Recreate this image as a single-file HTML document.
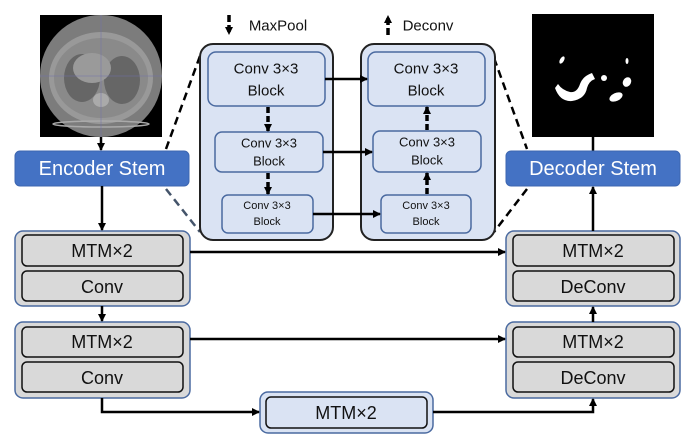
<!DOCTYPE html>
<html><head><meta charset="utf-8"><style>
body{margin:0;background:#fff}
svg{display:block}
text{font-family:"Liberation Sans",sans-serif;text-anchor:middle;dominant-baseline:central;fill:#111}
</style></head><body>
<svg width="698" height="447" viewBox="0 0 698 447" xmlns="http://www.w3.org/2000/svg">
<defs>
<marker id="a" markerWidth="8" markerHeight="8" refX="7" refY="4" orient="auto" markerUnits="userSpaceOnUse"><path d="M0,0 L8,4 L0,8 z" fill="#000"/></marker>
</defs>
<!-- CT image -->
<rect x="40" y="15" width="122" height="122" fill="#000"/>
<circle cx="101" cy="76" r="61" fill="#7c7c7c"/>
<ellipse cx="101" cy="78" rx="52" ry="46" fill="#999"/>
<ellipse cx="101" cy="78" rx="47" ry="40" fill="#8a8a8a"/>
<ellipse cx="82" cy="78" rx="18" ry="24" fill="#666"/>
<ellipse cx="122" cy="80" rx="18" ry="24" fill="#666"/>
<ellipse cx="92" cy="68" rx="19" ry="15" fill="#9a9a9a"/>
<ellipse cx="101" cy="100" rx="8" ry="7" fill="#aaa"/>
<ellipse cx="101" cy="124" rx="48" ry="3" fill="none" stroke="#aaa" stroke-width="1.5"/>
<line x1="101" y1="15" x2="101" y2="137" stroke="#7070aa" stroke-width="0.5"/>
<line x1="40" y1="76" x2="162" y2="76" stroke="#7070aa" stroke-width="0.5"/>
<!-- Mask -->
<rect x="532" y="14" width="122" height="123" fill="#000"/>
<path d="M555,88 Q560,102 572,101 Q585,99 587,88 Q589,81 595,79 L592,73 Q583,76 580,84 Q577,93 570,92 Q562,90 558,84 z" fill="#fff"/>
<ellipse cx="562" cy="60" rx="2" ry="4" transform="rotate(30 562 60)" fill="#fff"/>
<ellipse cx="627" cy="61" rx="1.5" ry="3" fill="#fff"/>
<circle cx="604" cy="78" r="3" fill="#fff"/>
<ellipse cx="627" cy="82" rx="4" ry="5" transform="rotate(30 627 82)" fill="#fff"/>
<ellipse cx="616" cy="97" rx="7" ry="4" transform="rotate(-25 616 97)" fill="#fff"/>
<!-- stems -->
<line x1="101" y1="137" x2="101" y2="150" stroke="#000" stroke-width="2.5" marker-end="url(#a)"/>
<rect x="15" y="151" width="174" height="35" rx="5" fill="#4472c4" stroke="#3d66b0"/>
<text x="102" y="169" font-size="20" style="fill:#fff">Encoder Stem</text>
<line x1="593" y1="137" x2="593" y2="151" stroke="#000" stroke-width="2.5"/>
<rect x="506" y="151" width="174" height="35" rx="5" fill="#4472c4" stroke="#3d66b0"/>
<text x="593" y="169" font-size="20" style="fill:#fff">Decoder Stem</text>
<!-- dashed zoom lines -->
<line x1="166" y1="149" x2="200" y2="56" stroke="#000" stroke-width="2.5" stroke-dasharray="8,5"/>
<line x1="166" y1="189" x2="200" y2="232" stroke="#44546a" stroke-width="2.5" stroke-dasharray="8,5"/>
<line x1="494" y1="58" x2="527" y2="149" stroke="#000" stroke-width="2.5" stroke-dasharray="8,5"/>
<line x1="527" y1="189" x2="494" y2="232" stroke="#000" stroke-width="2.5" stroke-dasharray="8,5"/>
<!-- legends -->
<line x1="229" y1="15" x2="229" y2="34" stroke="#000" stroke-width="3.5" stroke-dasharray="7,3" marker-end="url(#a)"/>
<text x="278" y="26" font-size="15">MaxPool</text>
<line x1="388" y1="35" x2="388" y2="16" stroke="#000" stroke-width="3.5" stroke-dasharray="7,3" marker-end="url(#a)"/>
<text x="428" y="26" font-size="15">Deconv</text>
<!-- big boxes -->
<rect x="200" y="44" width="133" height="196" rx="13" fill="#dae3f3" stroke="#222" stroke-width="2"/>
<rect x="361" y="44" width="134" height="196" rx="13" fill="#dae3f3" stroke="#222" stroke-width="2"/>
<g fill="#dae3f3" stroke="#4a6aa0" stroke-width="1.5">
<rect x="208" y="52" width="117" height="54" rx="8"/>
<rect x="215" y="132" width="108" height="40" rx="7"/>
<rect x="222" y="195" width="91" height="38" rx="6"/>
<rect x="368" y="52" width="117" height="54" rx="8"/>
<rect x="373" y="131" width="108" height="41" rx="7"/>
<rect x="381" y="195" width="90" height="38" rx="6"/>
</g>
<text x="266" y="69" font-size="15">Conv 3×3</text><text x="266" y="91" font-size="15">Block</text>
<text x="269" y="143" font-size="13">Conv 3×3</text><text x="269" y="161" font-size="13">Block</text>
<text x="267" y="206" font-size="11">Conv 3×3</text><text x="267" y="222" font-size="11">Block</text>
<text x="426" y="69" font-size="15">Conv 3×3</text><text x="426" y="91" font-size="15">Block</text>
<text x="427" y="142" font-size="13">Conv 3×3</text><text x="427" y="160" font-size="13">Block</text>
<text x="426" y="206" font-size="11">Conv 3×3</text><text x="426" y="222" font-size="11">Block</text>
<g stroke="#000" stroke-width="2.5">
<line x1="325" y1="79" x2="367" y2="79" marker-end="url(#a)"/>
<line x1="323" y1="152" x2="372" y2="152" marker-end="url(#a)"/>
<line x1="313" y1="214" x2="380" y2="214" marker-end="url(#a)"/>
</g>
<g stroke="#000" stroke-width="3.5" stroke-dasharray="6,3">
<line x1="268" y1="107" x2="268" y2="131" marker-end="url(#a)"/>
<line x1="268" y1="173" x2="268" y2="194" marker-end="url(#a)"/>
<line x1="427" y1="130" x2="427" y2="107" marker-end="url(#a)"/>
<line x1="427" y1="194" x2="427" y2="173" marker-end="url(#a)"/>
</g>
<!-- MTM groups -->
<g stroke="#4a6aa0" stroke-width="1.5" fill="#d9d9d9">
<rect x="15" y="231" width="175" height="75" rx="8"/>
<rect x="15" y="322" width="175" height="76" rx="8"/>
<rect x="506" y="231" width="174" height="75" rx="8"/>
<rect x="506" y="322" width="174" height="76" rx="8"/>
<rect x="260" y="392" width="173" height="41" rx="8" fill="#dae3f3"/>
</g>
<g stroke="#111" stroke-width="1.5" fill="#d9d9d9">
<rect x="22" y="235" width="161" height="31" rx="5"/>
<rect x="22" y="271" width="161" height="30" rx="5"/>
<rect x="22" y="327" width="161" height="30" rx="5"/>
<rect x="22" y="362" width="161" height="30" rx="5"/>
<rect x="513" y="235" width="161" height="31" rx="5"/>
<rect x="513" y="271" width="161" height="30" rx="5"/>
<rect x="513" y="327" width="161" height="30" rx="5"/>
<rect x="513" y="362" width="161" height="30" rx="5"/>
<rect x="266" y="397" width="161" height="31" rx="5" fill="#dae3f3"/>
</g>
<g font-size="18">
<text x="102" y="251">MTM×2</text><text x="102" y="287">Conv</text>
<text x="102" y="342">MTM×2</text><text x="102" y="378">Conv</text>
<text x="593" y="251">MTM×2</text><text x="593" y="287">DeConv</text>
<text x="593" y="342">MTM×2</text><text x="593" y="378">DeConv</text>
<text x="346" y="413">MTM×2</text>
</g>
<g stroke="#000" stroke-width="2.5" fill="none">
<line x1="102" y1="186" x2="102" y2="230" marker-end="url(#a)"/>
<line x1="102" y1="306" x2="102" y2="321" marker-end="url(#a)"/>
<line x1="190" y1="252" x2="505" y2="252" marker-end="url(#a)"/>
<line x1="190" y1="339" x2="505" y2="339" marker-end="url(#a)"/>
<polyline points="102,398 102,412 259,412" marker-end="url(#a)"/>
<polyline points="433,412 593,412 593,399" marker-end="url(#a)"/>
<line x1="593" y1="322" x2="593" y2="307" marker-end="url(#a)"/>
<line x1="593" y1="231" x2="593" y2="187" marker-end="url(#a)"/>
</g>
</svg>
</body></html>
